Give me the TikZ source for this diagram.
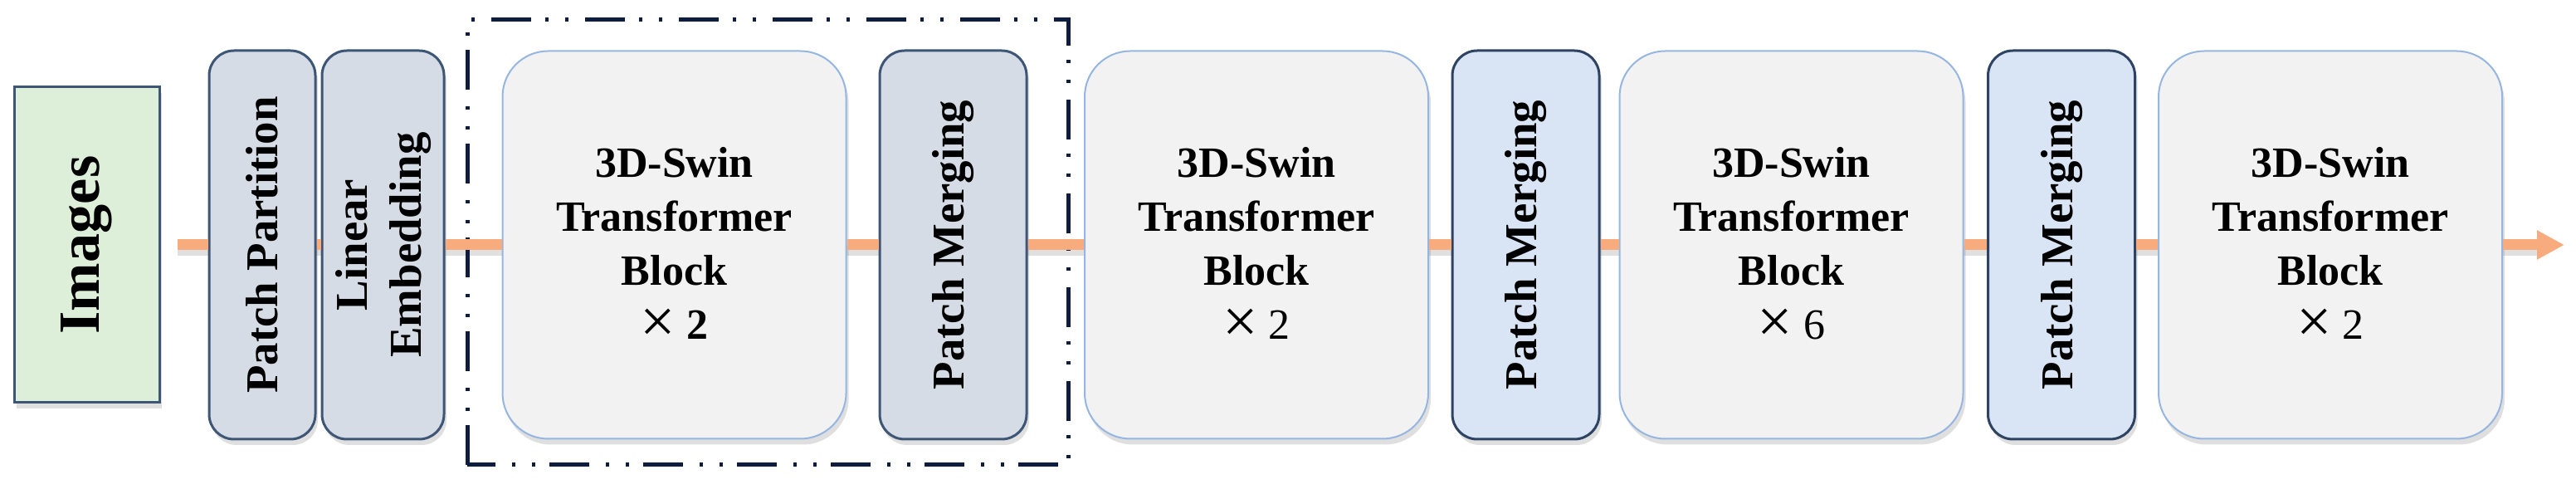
\documentclass[tikz,border=0pt]{standalone}
\usepackage{fontspec}
\setmainfont{Liberation Serif}
\usepackage{graphicx}
\usetikzlibrary{shadows, arrows.meta, positioning}
\definecolor{imggreen}{RGB}{221, 239, 216}
\definecolor{slateedge}{RGB}{62, 86, 118}
\definecolor{greyfill}{RGB}{214, 220, 229}
\definecolor{bluefill}{RGB}{217, 228, 245}
\definecolor{navyedge}{RGB}{46, 66, 98}
\definecolor{blockfill}{RGB}{242, 242, 242}
\definecolor{blockedge}{RGB}{150, 182, 226}
\definecolor{floworange}{RGB}{248, 172, 125}
\definecolor{stagenavy}{RGB}{14, 28, 62}
\newcommand{\repmark}{{\mdseries\raisebox{-0.08em}{\scalebox{1.45}{×}}}}

\begin{document}
\begin{tikzpicture}[
  boxshadow/.style={drop shadow={shadow xshift=0.03cm, shadow yshift=-0.07cm, opacity=0.25}},
  imgbox/.style={draw=slateedge, fill=imggreen, line width=0.03cm, minimum width=1.75cm, minimum height=3.8cm, inner sep=0pt, font=\fontsize{20}{24}\selectfont\bfseries, boxshadow},
  thinbox/.style={draw=slateedge, fill=greyfill, rounded corners=0.3cm, line width=0.03cm, minimum height=4.68cm, inner sep=0pt, font=\fontsize{15.6}{18.5}\selectfont\bfseries, boxshadow},
  mergebox/.style={thinbox, minimum width=1.77cm},
  swinbox/.style={draw=blockedge, fill=blockfill, rounded corners=0.55cm, line width=0.02cm, minimum width=4.14cm, minimum height=4.67cm, inner sep=0pt, align=center, font=\fontsize{14.8}{18.5}\selectfont\bfseries, boxshadow},
  flow/.style={draw=floworange, line width=0.13cm},
  flowshadow/.style={draw=black, opacity=0.12, line width=0.13cm},
  stageframe/.style={draw=stagenavy, line width=0.05cm, dash pattern=on 0.48cm off 0.17cm on 0.04cm off 0.2cm on 0.04cm off 0.2cm}
]
  \useasboundingbox (0, 0) rectangle (31.04, 5.95);

  % Flow line ends
  \coordinate (start) at (2.14, 3.0);
  \coordinate (end) at (30.90, 3.0);
  \draw[flowshadow] ([yshift=-0.07cm]start) -- ([xshift=-0.3cm, yshift=-0.07cm]end);

  % Input and embedding
  \node[imgbox] (img) at (1.045, 3.0) {\rotatebox{90}{Images}};
  \node[thinbox, minimum width=1.28cm] (pp) at (3.16, 3.0) {\rotatebox{90}{Patch Partition}};
  \node[thinbox, minimum width=1.47cm] (le) at (4.615, 3.0) {\rotatebox{90}{\begin{tabular}{@{}c@{}}Linear\\Embedding\end{tabular}}};

  % Stage 1 (framed)
  \draw[stageframe] (5.63, 0.35) rectangle (12.87, 5.71);
  \node[swinbox] (b1) at (8.125, 3.0) {3D-Swin\\Transformer\\Block\\\repmark\ 2};
  \node[mergebox] (pm1) at (11.485, 3.0) {\rotatebox{90}{Patch Merging}};

  % Stages 2--4
  \node[swinbox] (b2) at (15.14, 3.0) {3D-Swin\\Transformer\\Block\\{\mdseries\repmark\ 2}};
  \node[mergebox, fill=bluefill, draw=navyedge] (pm2) at (18.385, 3.0) {\rotatebox{90}{Patch Merging}};
  \node[swinbox] (b3) at (21.585, 3.0) {3D-Swin\\Transformer\\Block\\{\mdseries\repmark\ 6}};
  \node[mergebox, fill=bluefill, draw=navyedge] (pm3) at (24.84, 3.0) {\rotatebox{90}{Patch Merging}};
  \node[swinbox] (b4) at (28.08, 3.0) {3D-Swin\\Transformer\\Block\\{\mdseries\repmark\ 2}};

  % Flow
  \draw[flow] (start) -- (pp.west);
  \foreach \a/\b in {pp/le, le/b1, b1/pm1, pm1/b2, b2/pm2, pm2/b3, b3/pm3, pm3/b4}
    \draw[flow] (\a.east) -- (\b.west);
  \draw[flow, -{Triangle[length=0.33cm, width=0.33cm]}] (b4.east) -- (end);
\end{tikzpicture}
\end{document}
